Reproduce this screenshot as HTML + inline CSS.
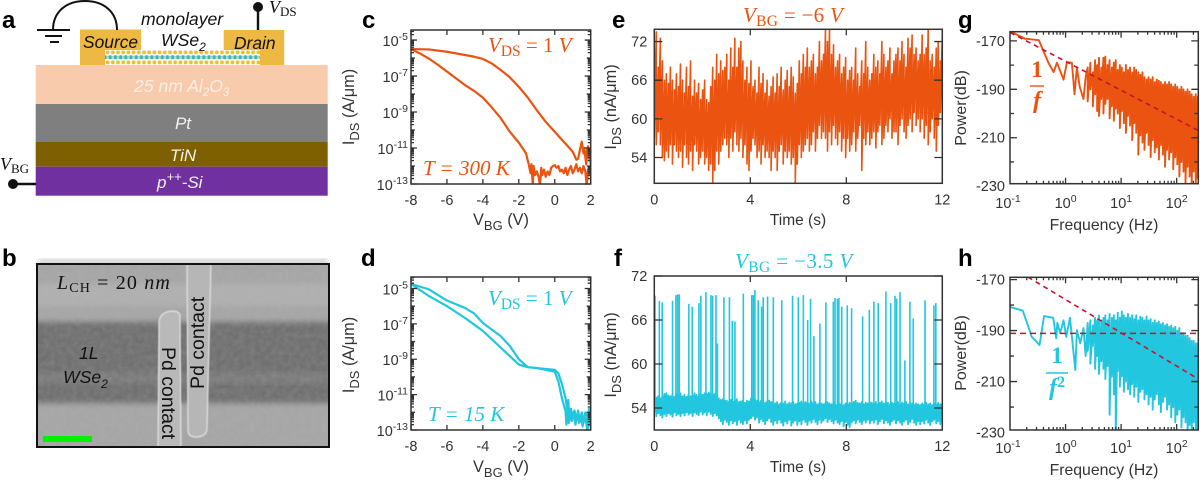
<!DOCTYPE html>
<html lang="en">
<head>
<meta charset="utf-8">
<title>Monolayer WSe2 device noise figure</title>
<style>
html,body{margin:0;padding:0;background:#fff;width:1200px;height:481px;overflow:hidden}
svg{display:block;font-family:"Liberation Sans",sans-serif}
.m{font-family:"Liberation Serif",serif;font-style:italic}
.u{font-style:normal}
.letter{font-size:24px;font-weight:700;fill:#000}
</style>
</head>
<body>
<svg id="figure" xmlns="http://www.w3.org/2000/svg" width="1200" height="481" viewBox="0 0 1200 481">
<defs>
<pattern id="ws" width="5.2" height="15" patternUnits="userSpaceOnUse" x="105" y="50">
<rect width="5.2" height="15" fill="#f4f8f4"/>
<circle cx="2.6" cy="2.4" r="1.9" fill="#e8c32a"/>
<circle cx="0" cy="7.2" r="2" fill="#3fb3b0"/>
<circle cx="5.2" cy="7.2" r="2" fill="#3fb3b0"/>
<circle cx="2.6" cy="7.2" r="1.4" fill="#9ad8d2"/>
<circle cx="2.6" cy="12.4" r="1.9" fill="#e8c32a"/>
</pattern>
<filter id="soft" x="-10%" y="-10%" width="120%" height="120%"><feGaussianBlur stdDeviation="3"/></filter>
<filter id="soft1" x="-10%" y="-10%" width="120%" height="120%"><feGaussianBlur stdDeviation="0.6"/></filter>
<filter id="grain" x="0" y="0" width="100%" height="100%"><feTurbulence type="fractalNoise" baseFrequency="0.18" numOctaves="2" seed="4"/><feColorMatrix type="matrix" values="0 0 0 0 0.5  0 0 0 0 0.5  0 0 0 0 0.5  0.9 0 0 0 -0.25"/></filter>
<clipPath id="semclip"><rect x="37" y="264" width="292" height="183"/></clipPath>
</defs>
<rect width="1200" height="481" fill="#fff"/>

<g>
<text class="letter" x="2" y="28">a</text>
<rect x="35.7" y="65" width="292" height="39" fill="#f8cbad"/>
<rect x="35.7" y="104" width="292" height="38" fill="#7f7f7f"/>
<rect x="35.7" y="142" width="292" height="24.7" fill="#7f6000"/>
<rect x="35.7" y="166.7" width="292" height="29" fill="#7030a0"/>
<rect x="80" y="29.5" width="61" height="35.5" fill="#edb943"/>
<rect x="223.7" y="30" width="60.5" height="35" fill="#edb943"/>
<rect x="105" y="50" width="155" height="15" fill="url(#ws)"/>
<path d="M53 30 C53 12 66 1 85 1 C104 1 117 12 117 30" fill="none" stroke="#111" stroke-width="2"/>
<path d="M37 30H70M45 36H62M50 42H59" stroke="#111" stroke-width="2" fill="none"/>
<path d="M258 8V30" stroke="#111" stroke-width="2.4"/>
<circle cx="258" cy="7" r="5" fill="#111"/>
<path d="M13 184H36" stroke="#111" stroke-width="2.4"/>
<circle cx="13" cy="184" r="5" fill="#111"/>
<text x="141" y="25" font-size="17.6" font-style="italic" fill="#111">monolayer</text>
<text x="161" y="46" font-size="17.6" font-style="italic" fill="#111">WSe<tspan font-size="12" dy="5">2</tspan></text>
<text x="83" y="48" font-size="17.4" font-style="italic" fill="#111">Source</text>
<text x="234" y="49" font-size="17.4" font-style="italic" fill="#111">Drain</text>
<text x="134" y="92" font-size="17.6" font-style="italic" fill="#fdeee4">25 nm Al<tspan font-size="11.5" dy="4">2</tspan><tspan dy="-4">O</tspan><tspan font-size="11.5" dy="4">3</tspan></text>
<text x="183" y="129" font-size="17" font-style="italic" fill="#f2f2f2" text-anchor="middle">Pt</text>
<text x="183" y="161" font-size="17" font-style="italic" fill="#f2f2f2" text-anchor="middle">TiN</text>
<text x="157" y="188" font-size="17" font-style="italic" fill="#f2f2f2">p<tspan font-size="13" dy="-7">++</tspan><tspan dy="7">-Si</tspan></text>
<text class="m" x="269" y="13" font-size="18" fill="#111">V<tspan class="u" font-size="13" dy="3">DS</tspan></text>
<text class="m" x="0" y="170" font-size="18" fill="#111">V<tspan class="u" font-size="13" dy="3">BG</tspan></text>
</g>

<g>
<text class="letter" x="2" y="266">b</text>
<rect x="38" y="259" width="290" height="6" fill="#ccc" filter="url(#soft)"/>
<g clip-path="url(#semclip)">
<rect x="37" y="264" width="292" height="183" fill="#a6a6a6"/>
<rect x="30" y="322" width="310" height="81" fill="#6f6f6f" filter="url(#soft)"/>
<rect x="30" y="284" width="310" height="22" fill="#b0b0b0" filter="url(#soft)"/>
<rect x="30" y="372" width="310" height="12" fill="#7b7b7b" filter="url(#soft)"/>
<rect x="37" y="264" width="292" height="183" filter="url(#grain)" opacity="0.35"/>
<path d="M158 447 L159 322 Q160 312 172 311 Q181 311 180 318 L181 447 Z" fill="#b9b9b9" stroke="#e2e2e2" stroke-width="1.2" filter="url(#soft1)"/>
<path d="M187 262 L188 430 Q188 437 196 437 Q207 437 207 428 L211 262 Z" fill="#b6b6b6" stroke="#e2e2e2" stroke-width="1.2" filter="url(#soft1)"/>
</g>
<rect x="37" y="264" width="292" height="183" fill="none" stroke="#111" stroke-width="2"/>
<rect x="43" y="436" width="49" height="6" fill="#00f000"/>
<text class="m" x="57" y="289" font-size="20" letter-spacing="1.15" fill="#111">L<tspan class="u" font-size="14" dy="3">CH</tspan><tspan class="u" dy="-3"> = 20 </tspan>nm</text>
<text x="79" y="359" font-size="17.6" font-style="italic" fill="#111">1L</text>
<text x="63" y="383" font-size="17.6" font-style="italic" fill="#111">WSe<tspan font-size="12" dy="5">2</tspan></text>
<text transform="translate(162,347) rotate(90)" font-size="19.5" fill="#111">Pd contact</text>
<text transform="translate(204,389) rotate(-90)" font-size="19.5" fill="#111">Pd contact</text>
</g>
<g id="charts"></g>
</svg>
<script>
// ---------- tick values ----------
const vbgTicks = [-8, -6, -4, -2, 0, 2];
const logCurrentTicks = [-5, -7, -9, -11, -13];
const timeTicks = [0, 4, 8, 12];
const eCurrentTicks = [54, 60, 66, 72];
const fCurrentTicks = [54, 60, 66, 72];
const freqExponentTicks = [-1, 0, 1, 2];
const powerTicks = [-170, -190, -210, -230];
const powerMinorTicks = [-180, -200, -220];

// ---------- panel c: transfer curve at 300 K ----------
const cVgUp = [-8,-7,-6,-5,-4.5,-4,-3.5,-3,-2.5,-2,-1.5,-1,-0.5,0,0.5,1,1.2,1.3,1.4,1.5,1.6,1.65,1.7,1.75,1.8,1.85,1.9,1.95,2];
const cLogIUp = [-5.5,-5.52,-5.65,-5.83,-5.92,-6.05,-6.3,-6.67,-7.07,-7.6,-8.2,-8.9,-9.55,-10.1,-10.65,-11.2,-11.65,-11.6,-11.1,-10.65,-11.3,-11.0,-11.5,-11.9,-11.1,-10.9,-11.6,-11.1,-12.0];
const cVgDown = [-8,-7.5,-7,-6.5,-6,-5.5,-5,-4.5,-4,-3.5,-3,-2.5,-2,-1.6,-1.45,-1.35,-1.3,-1.22,-1.18,-1.1,-1,-0.9,-0.82,-0.75,-0.7,-0.6,-0.5,-0.4,-0.3,-0.2,-0.1,0,0.1,0.2,0.3,0.4,0.5,0.6,0.7,0.8,0.9,1,1.1,1.2,1.3,1.4,1.5,1.6,1.7,1.78,1.85,1.92,2];
const cLogIDown = [-5.5,-5.75,-6.03,-6.38,-6.75,-7.12,-7.5,-7.82,-8.2,-8.75,-9.35,-10.1,-10.7,-11.3,-11.9,-12.4,-11.9,-13.1,-12.0,-12.5,-12.3,-12.6,-13.1,-12.1,-12.5,-12.2,-12.6,-12.3,-12.5,-12.1,-12.0,-11.95,-12.1,-12.0,-12.3,-12.2,-12.4,-12.1,-12.5,-12.2,-12.0,-12.4,-12.2,-11.9,-12.3,-12.1,-12.4,-12.0,-12.3,-13.1,-12.2,-12.5,-12.3];

// ---------- panel d: transfer curve at 15 K ----------
const dVgUp = [-8,-7,-6,-5,-4.5,-4,-3,-2.5,-2,-1.5,-1,0,0.2,0.4,0.6,0.7,0.75,0.8,0.9,1,1.1,1.2,1.3,1.4,1.5,1.6,1.7,1.8,1.85,1.9,2];
const dLogIUp = [-4.74,-5.05,-5.68,-6.1,-6.4,-6.95,-7.7,-8.25,-9,-9.45,-9.5,-9.6,-9.8,-10.4,-11.2,-11.9,-11.3,-12.2,-11.8,-12.3,-11.9,-12.4,-11.9,-12.5,-12,-12.6,-12,-12.2,-13,-11.8,-12.2];
const dVgDown = [-8,-7,-6,-5,-4,-3,-2,-1.5,-1,0,0.2,0.4,0.6,0.65,0.7,0.78,0.85,0.95,1.05,1.15,1.25,1.35,1.45,1.55,1.65,1.75,1.82,1.95];
const dLogIDown = [-4.74,-5.43,-6,-6.66,-7.4,-8.35,-9.3,-9.45,-9.5,-9.7,-10.25,-11.2,-11.95,-12.7,-12.0,-12.6,-12.1,-12.5,-12.0,-12.7,-12.1,-12.6,-12.3,-12.8,-12.2,-12.6,-13.1,-12.3];

// ---------- panel e: current trace at VBG = -6 V, one high/low pair per 1/12 s ----------
const eHigh = [71,73.5,68,72.5,69,66,67,65.5,68,66,64.5,67, 65,68.5,66,64,68,65,69,63.5,66,64,65.5,63, 64.5,66,63,62.5,65,68,66,70,67,69,67.5,68, 70,66,71,68,72.5,68,71,72,69,66,68,65.5, 69,65,66,64,68,65.5,67,64,66,63.5,65,66.5, 64,67,65,68,64.5,66,67.5,65,68,66.5,64,65.5, 69,67,70,68,71,68,69,70,67,68,72,69, 70,74,72,74,70,71.5,68,69,70,67,68,69.5, 66,67.5,68,66,71,67,65,69,67,72,68,66, 67,70,68,69,67,72,70,68,69,71,67,69, 70,71,69,72,70,68,72.5,71,73,70,71,69, 70,73,70,71,74,69,70,68,71,72,69,73];
const eLow = [57,56,58,56,54,53.5,55,54,56,53,56,55, 54,55,52.5,56,54,53,55,52,56,55,53,54, 55,53,54,52,53,50,52,55,53,55,56,57, 56,54,57,55,58,56,55,57,54,56,53,52, 55,57,56,54,55,53,56,54,55,54,52,55, 54,52,55,56,53,55,54,55,53,54,50,53, 56,54,55,56,57,55,56,58,55,57,59,57, 58,57,55,58,56,59,57,56,58,55,57,54, 57,55,56,58,55,57,59,52,57,56,58,56, 57,58,55.5,58,59,56,57,59,58,60,57,58, 58,56,59,60,58,57,59,60,58,61,59,60, 58,60,57,59,56,58,60,57,55,59,61,58];

// ---------- panel f: random telegraph trace at VBG = -3.5 V ----------
const fHigh = [55.8,55.4,55.6,55.3,55.5,55.9,56,55.7,55.6,55.8,55.5,55.9, 55.7,56,55.6,55.8,55.5,55.9,55.6,55.7,56,55.8,55.6,55.9, 55.8,56,55.9,56.1,56,55.8,55.9,55.6,55.3,55.1,55.2,55, 55,54.8,55.1,54.9,55,55.2,54.8,54.9,55,54.7,55,54.9, 55.3,55.5,55.2,55,54.8,55,54.9,54.7,54.9,55,54.8,54.9, 54.6,54.8,54.5,54.7,54.6,54.9,54.5,54.7,54.6,54.8,54.5,54.6, 54.7,54.9,54.6,54.8,54.7,54.6,54.9,54.7,54.8,54.5,54.7,54.6, 54.5,54.7,54.8,54.6,54.5,54.7,54.4,54.6,54.5,54.7,54.4,54.6, 54.5,54.7,54.6,54.8,55,54.7,54.6,54.8,54.5,54.7,54.6,54.8, 54.7,54.6,54.8,54.5,54.7,54.9,54.6,54.8,54.7,54.5,54.7,54.6, 54.6,54.8,54.5,54.7,54.6,54.8,54.5,54.7,54.6,54.4,54.6,54.5, 54.4,54.6,54.5,54.7,54.5,54.6,54.4,54.6,54.5,54.7,54.5,54.6];
const fLow = [53.4,52.9,53.3,53,52.7,53.2,52.9,53.3,53.1,52.8,53.4,53, 53.2,52.9,53.3,53,53.4,53.1,53.3,52.9,53.4,53.2,53,53.5, 53.1,53.4,53,53.5,53.2,52.9,53.3,53,52.6,52.2,51.8,52.4, 52.1,51.7,52.3,51.9,52.2,51.7,52.4,52,51.8,52.3,51.9,52.4, 52.6,52.9,52.4,52.7,52,52.5,52.2,51.8,52.3,52.6,52.1,51.7, 52.3,51.9,52.4,52,51.6,52.2,51.9,52.4,51.6,52,52.3,51.7, 52.2,51.8,52.4,52.1,51.7,52.3,52,52.5,52.1,51.8,52.4,52, 52.3,52.6,52.1,52.5,52.2,51.9,52.4,52,51.8,52.2,51.5,52.1, 51.7,51.4,52,52.3,51.9,52.4,52.1,51.8,52.3,52,52.4,51.9, 52.3,52,52.4,51.8,52.2,52.5,51.9,52.3,52,51.7,52.2,52.4, 51.9,52.3,52,51.7,52.2,52.4,51.8,52.1,52.5,52,51.7,52.2, 51.8,52.2,51.9,52.4,52,51.7,52.2,52.4,51.9,52.2,51.8,52.3];
const fSpikeTimes = [0.03,0.21,0.33,0.76,0.9,0.97,1.04,1.44,1.58,1.86,1.94,2.15,2.36,2.43,2.57,2.63,2.9,3.13,3.25,3.36,3.71,4.06,4.13,4.19,4.33,4.47,4.54,4.72,4.96,5.31,5.76,6,6.21,6.39,6.51,6.65,6.9,7.15,7.46,7.53,7.63,7.69,7.81,8.04,8.22,8.68,8.96,9.15,9.33,9.65,9.85,10.03,10.1,10.24,10.44,10.65,10.79,11.28,11.65,11.73];
const fSpikeLevels = [69.3,68.6,68.4,68.6,69.4,69.5,69.5,68.2,67.8,68.3,69.3,69.8,69.4,69.3,69.4,62.8,69.1,69.1,65.9,65.8,69.6,69.4,69.4,70.1,68.7,67.8,69.1,69.2,69.1,68.7,69.3,69.1,69.4,66,68.9,63.8,65.5,68.4,68.5,69,68.9,69,67.8,68,67.6,66.5,67.4,68.5,68.3,69.9,68.3,69.3,68.9,69.8,60.5,68.5,66.2,68.7,68,68.3];

// ---------- shared high-frequency sampling for panels g and h ----------
const denseFreq = [2.5,2.8,3.1,3.4,3.7,4,4.4,4.8,5.2,5.7,6.2,6.8,7.4,8,8.7,9.5,10.3,11.2,12.2,13.3,14.5,15.8,17.2,18.7,20.4,22.2,24.2,26.3,28.7,31.2,34,37,40.3,43.9,47.8,52,56.6,61.7,67.1,73.1,79.6,86.6,94.3,102.7,111.8,121.7,132.5,144.2,157,171,186,202.6,220.5,240];

// ---------- panel g: power spectrum at VBG = -6 V ----------
const gLineFreq = [0.1,0.187,0.33,0.49,0.61,0.7,0.92,1.06,1.3,1.45,1.6,1.8,2.1,2.3];
const gLinePower = [-166,-169.1,-169.7,-179,-182.9,-179,-186,-178.8,-179,-192,-181,-189,-194,-185];
const gHigh = [-181,-179,-183,-178,-180,-177,-181,-177,-176.5,-180,-178,-181,-179,-178,-182,-180,-181,-183,-180,-182,-181,-183,-181,-182,-183,-184,-183,-185,-186,-185,-186,-185,-187,-186,-186.5,-187,-188,-187,-188,-187,-188,-189,-188,-189,-190,-189,-190,-191,-190,-191,-192,-193,-192,-193];
const gLow = [-195,-190,-197,-192,-199,-201,-194,-200,-196,-194,-202,-197,-203,-198,-200,-206,-199,-204,-208,-201,-205,-211,-204,-208,-217,-209,-212,-215,-208,-213,-218,-211,-216,-214,-219,-213,-217,-222,-215,-219,-216,-223,-218,-221,-226,-220,-224,-229,-222,-226,-229,-224,-230,-227];
const gFitFreq = [0.1, 245];
const gFitPower = [-166.5, -207];

// ---------- panel h: power spectrum at VBG = -3.5 V ----------
const hLineFreq = [0.1,0.17,0.246,0.34,0.41,0.6,0.68,0.71,0.8,0.92,1.03,1.2,1.5,1.6,1.84,2.1,2.3];
const hLinePower = [-180.7,-182.2,-192.4,-195.7,-184.3,-185,-193,-187,-191,-186,-192.5,-185,-205.5,-189.8,-195,-189,-200];
const hHigh = [-187,-186,-188,-185,-186,-184,-186,-185,-184,-186,-183.5,-185,-184,-186,-183,-185,-182.5,-184,-185,-183.5,-185,-184,-185.5,-184,-186,-184.5,-185,-186,-184.5,-186,-185.5,-187,-186,-187,-186.5,-187.5,-187,-188,-187.5,-188.5,-188,-189,-188.5,-190,-189,-191,-191,-192,-192,-193,-194,-194,-195,-195];
const hLow = [-198,-203,-196,-205,-200,-207,-202,-205,-209,-204,-223,-208,-215,-231,-206,-212,-208,-214,-210,-213,-215,-211,-216,-212,-218,-214,-213,-217,-215,-219,-216,-221,-217,-215,-219,-222,-218,-216,-221,-219,-224,-220,-226,-223,-221,-228,-224,-226,-231,-227,-231,-226,-231,-229];
const hFit2Freq = [0.21, 245];
const hFit2Power = [-169, -209];
const hFlatFreq = [0.1, 245];
const hFlatPower = [-191.1, -191.1];

// ---------- drawing helpers ----------
const NS = 'http://www.w3.org/2000/svg';
const ORANGE = '#ea5310';
const CYAN = '#22c6de';
const RED = '#cc1030';
const INK = '#333';
const root = document.getElementById('charts');
let clipCount = 0;

function mk(tag, attrs, parent) {
  const el = document.createElementNS(NS, tag);
  for (const k in attrs) el.setAttribute(k, attrs[k]);
  parent.appendChild(el);
  return el;
}
function linear(d0, d1, r0, r1) {
  return v => r0 + (v - d0) * (r1 - r0) / (d1 - d0);
}
function logScale(d0, d1, r0, r1) {
  const s = linear(Math.log10(d0), Math.log10(d1), r0, r1);
  return v => s(Math.log10(v));
}
function pointsOf(xs, ys, sx, sy) {
  return xs.map((x, i) => sx(x).toFixed(2) + ',' + sy(ys[i]).toFixed(2)).join(' ');
}
function zigzag(xs, hi, lo) {
  const px = [], py = [];
  xs.forEach((x, i) => { px.push(x, x); py.push(hi[i], lo[i]); });
  return { px, py };
}
function panel(name, box) {
  const g = mk('g', {}, root);
  
  
  const id = 'clip' + (++clipCount);
  const cp = mk('clipPath', { id }, g);
  mk('rect', { x: box.x0, y: box.y0, width: box.x1 - box.x0, height: box.y1 - box.y0 }, cp);
  const plot = mk('g', { 'clip-path': 'url(#' + id + ')' }, g);
  
  
  return { g, plot, box };
}
function frame(p) {
  const b = p.box;
  const r = mk('rect', { x: b.x0, y: b.y0, width: b.x1 - b.x0, height: b.y1 - b.y0, fill: 'none', stroke: INK, 'stroke-width': 1.5 }, p.g);
  
  
}
function xTick(p, x, len) {
  const b = p.box;
  const t = mk('path', { d: 'M' + x + ' ' + b.y1 + 'v' + (-len) + 'M' + x + ' ' + b.y0 + 'v' + len, stroke: INK, 'stroke-width': 1.3, fill: 'none' }, p.g);
  
  
}
function yTick(p, y, len) {
  const b = p.box;
  if (y < b.y0 - 0.5 || y > b.y1 + 0.5) return;
  const t = mk('path', { d: 'M' + b.x0 + ' ' + y + 'h' + len + 'M' + b.x1 + ' ' + y + 'h' + (-len), stroke: INK, 'stroke-width': 1.3, fill: 'none' }, p.g);
  
  
}
function label(p, txt, x, y, anchor, size, name) {
  const t = mk('text', { x, y, 'text-anchor': anchor, 'font-size': size, fill: INK }, p.g);
  t.textContent = txt;
  
  
  return t;
}
function powerLabel(p, exp, x, y, anchor, name) {
  const t = mk('text', { x, y, 'text-anchor': anchor, 'font-size': 14.5, fill: INK }, p.g);
  
  
  const a = mk('tspan', {}, t);
  a.textContent = '10';
  const s = mk('tspan', { 'font-size': 10.5, dy: -6 }, t);
  s.textContent = String(exp);
}
function subTitle(p, x, y, rotate, main, sub, rest, name) {
  const attrs = { 'text-anchor': 'middle', 'font-size': 16.3, fill: INK };
  if (rotate) attrs.transform = 'translate(' + x + ',' + y + ') rotate(-90)';
  else { attrs.x = x; attrs.y = y; }
  const t = mk('text', attrs, p.g);
  
  
  const a = mk('tspan', {}, t);
  a.textContent = main;
  const s = mk('tspan', { 'font-size': 13, dy: 5 }, t);
  s.textContent = sub;
  const r = mk('tspan', { dy: -5 }, t);
  r.textContent = rest;
}
function line(p, xs, ys, sx, sy, color, width, name, dash) {
  const attrs = { points: pointsOf(xs, ys, sx, sy), fill: 'none', stroke: color, 'stroke-width': width, 'stroke-linejoin': 'round' };
  if (dash) attrs['stroke-dasharray'] = dash;
  const l = mk('polyline', attrs, p.plot);
  
  
}
function mathLabel(p, x, y, color, parts, name, spacing) {
  const t = mk('text', { x, y, 'font-size': 21, fill: color, class: 'm', 'letter-spacing': spacing || 0 }, p.g);
  
  
  parts.forEach(part => {
    const attrs = {};
    if (part.sub) { attrs['font-size'] = 15.5; attrs.dy = 4; attrs.class = 'u'; }
    if (part.back) attrs.dy = -4;
    if (part.plain) attrs.class = 'u';
    const s = mk('tspan', attrs, t);
    s.textContent = part.t;
  });
}

// ---------- transfer panels ----------
function transferPanel(name, box, logTop, ticksY, labelYOffset, up, down, color, vdsY, tempX, tempY, tempText, titleY, yTitleY) {
  const p = panel(name, box);
  const sx = linear(-8, 2, box.x0, box.x1);
  const sy = linear(-13, logTop, box.y1, box.y0);
  line(p, down[0], down[1], sx, sy, color, 2.2, 'backward-sweep-line');
  line(p, up[0], up[1], sx, sy, color, 2.2, 'forward-sweep-line');
  frame(p);
  vbgTicks.forEach(v => {
    xTick(p, sx(v), 5);
    label(p, String(v), sx(v), box.y1 + 21, 'middle', 14.5, 'x-tick-label');
  });
  ticksY.forEach(v => {
    yTick(p, sy(v), 6);
    powerLabel(p, v, box.x0 - 3, sy(v) + labelYOffset, 'end', 'y-tick-label');
  });
  for (let d = -13; d < logTop; d++) {
    for (let m = 2; m < 10; m += 1) {
      yTick(p, sy(d + Math.log10(m)), 3);
    }
    if (!ticksY.includes(d)) yTick(p, sy(d), 4);
  }
  subTitle(p, 501, titleY, false, 'V', 'BG', ' (V)', 'x-axis-title');
  subTitle(p, 354, yTitleY, true, 'I', 'DS', ' (A/\u03BCm)', 'y-axis-title');
  mathLabel(p, 488, vdsY, color, [{ t: 'V' }, { t: 'DS', sub: true }, { t: ' = 1 ', back: true, plain: true }, { t: 'V' }], 'vds-annotation');
  mathLabel(p, tempX, tempY, color, [{ t: tempText }], 'temperature-annotation');
  return p;
}
transferPanel('panel-c-transfer-300k', { x0: 411, x1: 590.7, y0: 30, y1: 184 }, -4.44, logCurrentTicks, 6,
  [cVgUp, cLogIUp], [cVgDown, cLogIDown], ORANGE, 52, 423, 175, 'T = 300 K', 225, 107);
transferPanel('panel-d-transfer-15k', { x0: 411, x1: 590.7, y0: 277, y1: 430 }, -4.35, logCurrentTicks, 6,
  [dVgUp, dLogIUp], [dVgDown, dLogIDown], CYAN, 305, 428, 421, 'T = 15 K', 472, 355);

// ---------- time-trace panels ----------
function timePanel(name, box, vMin, vMax, ticksY, titleY, yTitleY) {
  const p = panel(name, box);
  const sx = linear(0, 12, box.x0, box.x1);
  const sy = linear(vMin, vMax, box.y1, box.y0);
  p.sx = sx;
  p.sy = sy;
  p.finish = function () {
    frame(p);
    timeTicks.forEach(v => {
      xTick(p, sx(v), 6);
      label(p, String(v), sx(v), box.y1 + 21, 'middle', 14.5, 'x-tick-label');
    });
    ticksY.forEach(v => {
      yTick(p, sy(v), 8);
      label(p, String(v), box.x0 - 7, sy(v) + 5, 'end', 14.5, 'y-tick-label');
    });
    label(p, 'Time (s)', 798, titleY, 'middle', 15.5, 'x-axis-title');
    subTitle(p, 616, yTitleY, true, 'I', 'DS', ' (nA/\u03BCm)', 'y-axis-title');
  };
  return p;
}
const ep = timePanel('panel-e-time-trace', { x0: 654.3, x1: 942.3, y0: 29.3, y1: 183.3 }, 50, 73.9, eCurrentTicks, 225, 107);
const eTime = eHigh.map((_, i) => i * 12 / (eHigh.length - 1));
const eZig = zigzag(eTime, eHigh, eLow);
line(ep, eZig.px, eZig.py, ep.sx, ep.sy, ORANGE, 1.6, 'current-trace-line');
ep.finish();
mathLabel(ep, 743, 22, ORANGE, [{ t: 'V' }, { t: 'BG', sub: true }, { t: ' = \u22126 ', back: true, plain: true }, { t: 'V' }], 'vbg-title', 0.3);

const fp = timePanel('panel-f-time-trace', { x0: 654.3, x1: 942.3, y0: 276, y1: 430 }, 51, 72, fCurrentTicks, 472, 355);
const fTime = fHigh.map((_, i) => i * 12 / (fHigh.length - 1));
const fZig = zigzag(fTime, fHigh, fLow);
fSpikeTimes.forEach((t, i) => {
  const s = mk('line', { x1: fp.sx(t), x2: fp.sx(t), y1: fp.sy(54), y2: fp.sy(fSpikeLevels[i]), stroke: CYAN, 'stroke-width': 1.6 }, fp.plot);
  
  
});
line(fp, fZig.px, fZig.py, fp.sx, fp.sy, CYAN, 1.9, 'current-trace-line');
fp.finish();
mathLabel(fp, 735, 268, CYAN, [{ t: 'V' }, { t: 'BG', sub: true }, { t: ' = \u22123.5 ', back: true, plain: true }, { t: 'V' }], 'vbg-title', 0.4);

// ---------- spectrum panels ----------
function spectrumPanel(name, box, dbBottom, dbTop, titleY, yTitleY, tickLabelY) {
  const p = panel(name, box);
  const sx = logScale(0.1, 245, box.x0, box.x1);
  const sy = linear(dbBottom, dbTop, box.y1, box.y0);
  p.sx = sx;
  p.sy = sy;
  p.finish = function () {
    frame(p);
    freqExponentTicks.forEach(e => {
      const dec = Math.pow(10, e);
      if (e > -1) xTick(p, sx(dec), 6);
      powerLabel(p, e, sx(dec) - (e < 0 ? 2 : 0), tickLabelY, 'middle', 'x-tick-label');
      for (let m = 2; m < 10; m++) {
        if (dec * m < 245) xTick(p, sx(dec * m), 3);
      }
    });
    powerTicks.forEach(v => {
      yTick(p, sy(v), 7);
      label(p, String(v), box.x0 - 5, sy(v) + 5, 'end', 14.5, 'y-tick-label');
    });
    powerMinorTicks.forEach(v => yTick(p, sy(v), 4));
    label(p, 'Frequency (Hz)', 1104, titleY, 'middle', 15.8, 'x-axis-title');
    const yt = mk('text', { transform: 'translate(966,' + yTitleY + ') rotate(-90)', 'text-anchor': 'middle', 'font-size': 16, fill: INK }, p.g);
    yt.textContent = 'Power(dB)';
    
    
  };
  return p;
}
function fraction(p, cx, y1, yBar, yF, half, color, den, sup) {
  const one = mk('text', { x: cx, y: y1, 'text-anchor': 'middle', 'font-size': 23, 'font-weight': 700, 'font-family': '"Liberation Serif",serif', fill: color }, p.g);
  one.textContent = '1';
  
  
  const bar = mk('line', { x1: cx - half, x2: cx + half, y1: yBar, y2: yBar, stroke: color, 'stroke-width': 1.4 }, p.g);
  
  
  const f = mk('text', { x: cx, y: yF, 'text-anchor': 'middle', 'font-size': 24, 'font-weight': 700, 'font-style': 'italic', 'font-family': '"Liberation Serif",serif', fill: color }, p.g);
  f.textContent = den;
  
  
  if (sup) {
    const s = mk('tspan', { 'font-size': 16, dy: -8, 'font-style': 'normal' }, f);
    s.textContent = sup;
  }
}
const gp = spectrumPanel('panel-g-spectrum', { x0: 1010, x1: 1198.3, y0: 31.7, y1: 183.7 }, -229, -166.2, 230, 108, 208);
const gZig = zigzag(denseFreq, gHigh, gLow);
line(gp, gLineFreq.concat(gZig.px), gLinePower.concat(gZig.py), gp.sx, gp.sy, ORANGE, 1.9, 'power-spectrum-line');
line(gp, gFitFreq, gFitPower, gp.sx, gp.sy, RED, 1.6, 'one-over-f-fit-line', '5 4');
gp.finish();
fraction(gp, 1037, 77, 86, 108, 7, ORANGE, 'f', '');

const hp = spectrumPanel('panel-h-spectrum', { x0: 1010, x1: 1198.3, y0: 277.3, y1: 430 }, -229, -169.1, 475, 353, 453);
const hZig = zigzag(denseFreq, hHigh, hLow);
line(hp, hLineFreq.concat(hZig.px), hLinePower.concat(hZig.py), hp.sx, hp.sy, CYAN, 1.9, 'power-spectrum-line');
line(hp, hFit2Freq, hFit2Power, hp.sx, hp.sy, RED, 1.6, 'one-over-f-squared-fit-line', '5 4');
line(hp, hFlatFreq, hFlatPower, hp.sx, hp.sy, RED, 1.6, 'flat-noise-fit-line', '6 4');
hp.finish();
fraction(hp, 1057, 363, 373, 395, 11, CYAN, 'f', '2');

// ---------- panel letters ----------
const letterTexts = ['c', 'd', 'e', 'f', 'g', 'h'];
const letterX = [362, 361, 612, 614, 958, 958];
const letterY = [28, 266, 28, 266, 28, 266];
letterTexts.forEach((s, i) => {
  const t = mk('text', { x: letterX[i], y: letterY[i], class: 'letter' }, root);
  t.textContent = s;
  
  
});
</script>
</body>
</html>
